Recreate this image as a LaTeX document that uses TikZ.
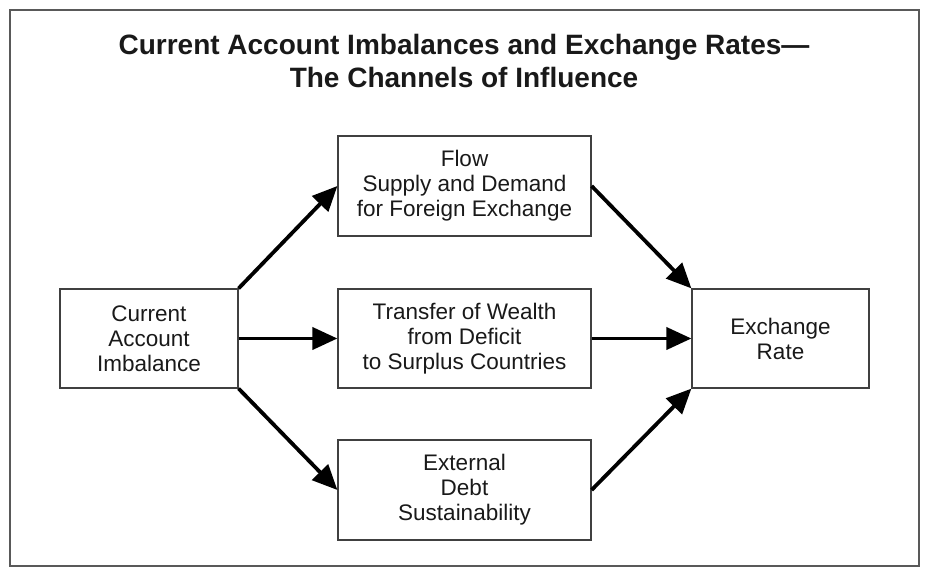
\documentclass[tikz,border=0pt]{standalone}
\usepackage{fontspec}
\setmainfont{Liberation Sans}
\usetikzlibrary{arrows.meta}

\begin{document}
\begin{tikzpicture}[x=1pt,y=1pt,>={Triangle[length=25pt,width=22pt]},
    box/.style={draw=black!75,line width=1.2pt,align=center,font=\fontsize{22.5}{25}\selectfont,
        text=black!90,inner sep=0pt},
    channel/.style={->,line width=3.8pt}]
    \useasboundingbox (0,0) rectangle (928,575);

    % Frame
    \draw[black!65,line width=1.6pt] (10,9) rectangle (919,565);

    % Title
    \node[font=\bfseries\fontsize{28}{32}\selectfont,align=center,text=black!90] (title) at (464,514)
        {Current Account Imbalances and Exchange Rates—\\The Channels of Influence};

    % Boxes
    \node[box,minimum width=178pt,minimum height=99pt] (imb) at (149,236.5)
        {Current\\Account\\Imbalance};
    \node[box,minimum width=253pt,minimum height=100pt] (flow) at (464.5,389)
        {Flow\\Supply and Demand\\for Foreign Exchange};
    \node[box,minimum width=253pt,minimum height=99pt] (wealth) at (464.5,236.5)
        {Transfer of Wealth\\from Deficit\\to Surplus Countries};
    \node[box,minimum width=253pt,minimum height=100pt] (debt) at (464.5,85)
        {External\\Debt\\Sustainability};
    \node[box,minimum width=177pt,minimum height=99pt] (rate) at (780.5,236.5)
        {Exchange\\Rate};

    % Channels
    \draw[channel] (imb.north east) -- (flow.west);
    \draw[channel] (imb.east) -- (wealth.west);
    \draw[channel] (imb.south east) -- (debt.west);
    \draw[channel] (flow.east) -- (rate.north west);
    \draw[channel] (wealth.east) -- (rate.west);
    \draw[channel] (debt.east) -- (rate.south west);
\end{tikzpicture}
\end{document}
